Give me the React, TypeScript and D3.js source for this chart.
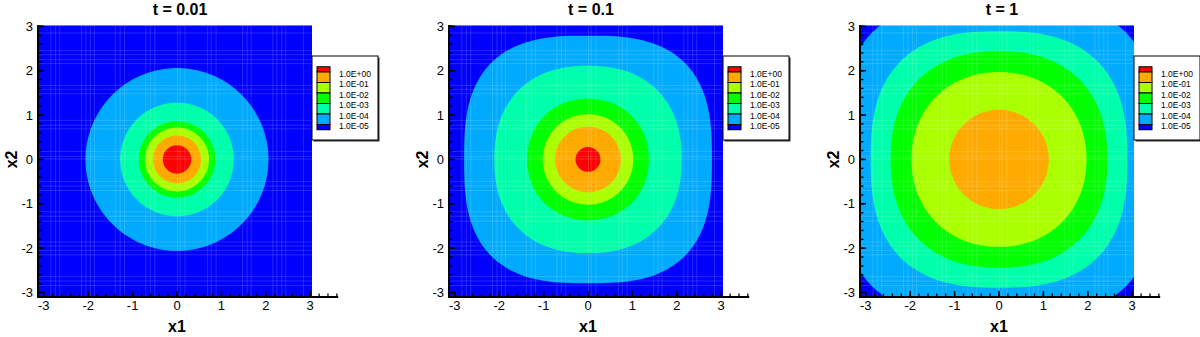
import * as d3 from "d3";

const width = 1200;
const height = 337;

// contour levels, legend order (highest first)
const levelLabels = ["1.0E+00", "1.0E-01", "1.0E-02", "1.0E-03", "1.0E-04", "1.0E-05"];
// band colours, from above 1E+00 down to below 1E-05
const bandColors = ["#ff0000", "#ffaa00", "#aaff00", "#00ff00", "#00ffaa", "#00aaff", "#0000ff"];

const titles = ["t = 0.01", "t = 0.1", "t = 1"];

// radius of each level boundary (1E-05 outermost first ... 1E+00 last)
const radii001 = [2.06, 1.28, 0.86, 0.72, 0.54, 0.32];
const radii01 = [2.79, 2.11, 1.37, 1.02, 0.74, 0.28];
const radii1 = [3.55, 2.89, 2.44, 1.97, 1.12];
// squareness of each boundary (2 = circle)
const shape001 = [2, 2, 2, 2, 2, 2];
const shape01 = [2.8, 2.3, 2.08, 2, 2, 2];
const shape1 = [3.2, 2.6, 2.3, 2.1, 2];

// faint mesh lines seen through the fill
const meshLines = [-2.84, -2.74, -2.64, -2.15, -2.05, -1.95, -1.86, -1.39, -1.28, -1.18, -0.7, -0.6, -0.5,
  0.01, 0.07, 0.18, 0.69, 0.77, 0.88, 1.48, 1.58, 1.67, 2.16, 2.25, 2.36, 2.45, 2.85];

const majorTicks = [-3, -2, -1, 0, 1, 2, 3];

const panels = [
  { title: titles[0], radii: radii001, shape: shape001 },
  { title: titles[1], radii: radii01, shape: shape01 },
  { title: titles[2], radii: radii1, shape: shape1 },
];

const plotLeft = [38, 449, 860];
const plotW = 274;
const plotTop = 25;
const plotH = 272;
const xDomain: [number, number] = [-3.13, 3.04];
const yDomain: [number, number] = [-3.1, 3.03];
const font = "'Liberation Sans', Arial, sans-serif";

function superEllipse(r: number, p: number) {
  const n = 200;
  return d3.range(n).map((i) => {
    const a = (i / n) * Math.PI * 2;
    const c = Math.cos(a);
    const s = Math.sin(a);
    return [
      r * Math.sign(c) * Math.pow(Math.abs(c), 2 / p),
      r * Math.sign(s) * Math.pow(Math.abs(s), 2 / p),
    ] as [number, number];
  });
}

const Panel = ({ idx }: { idx: number }) => {
  const panel = panels[idx];
  const left = plotLeft[idx];
  const x = d3.scaleLinear().domain(xDomain).range([left, left + plotW]);
  const y = d3.scaleLinear().domain(yDomain).range([plotTop + plotH, plotTop]);
  const line = d3
    .line<[number, number]>()
    .x((d) => x(d[0]))
    .y((d) => y(d[1]))
    .curve(d3.curveLinearClosed);

  const bottom = plotTop + plotH;
  const xEnd = 3.63;
  const xMinor = d3.range(-3, xEnd, 0.2).map((v) => +v.toFixed(2));
  const yMinor = d3.range(-3, 3.01, 0.2).map((v) => +v.toFixed(2));

  // legend
  const legLeft = left + plotW;
  const legTop = 56;
  const legY = d3.scaleLinear().domain([0, 1]).range([72, 82.5]);
  const sw = legLeft + 5;

  return (
    <g>
      <clipPath id={`clip${idx}`}>
        <rect x={left} y={plotTop} width={plotW} height={plotH} />
      </clipPath>
      <g clipPath={`url(#clip${idx})`}>
        <rect x={left} y={plotTop} width={plotW} height={plotH} fill={bandColors[6]} />
        {panel.radii.map((r, i) => (
          <path key={i} d={line(superEllipse(r, panel.shape[i])) || ""} fill={bandColors[5 - i]} />
        ))}
        {meshLines.map((m, i) => (
          <line key={"mx" + i} x1={x(m)} x2={x(m)} y1={plotTop} y2={bottom} stroke="#fff" strokeOpacity={0.15} />
        ))}
        {meshLines.map((m, i) => (
          <line key={"my" + i} y1={y(m)} y2={y(m)} x1={left} x2={left + plotW} stroke="#fff" strokeOpacity={0.15} />
        ))}
        <line x1={left} x2={left + plotW} y1={plotTop + 0.5} y2={plotTop + 0.5} stroke="#fff" strokeOpacity={0.45} />
      </g>

      {/* x axis */}
      <line x1={x(xDomain[0]) - 1} x2={x(xEnd)} y1={bottom} y2={bottom} stroke="#000" strokeWidth={2} />
      {xMinor.map((v, i) => (
        <line key={"xm" + i} x1={x(v)} x2={x(v)} y1={bottom} y2={bottom - 3.5} stroke="#000" strokeWidth={1.3} />
      ))}
      {majorTicks.map((v) => (
        <g key={"xt" + v}>
          <line x1={x(v)} x2={x(v)} y1={bottom} y2={bottom - 6} stroke="#000" strokeWidth={1.5} />
          <text x={x(v)} y={bottom + 13} textAnchor="middle" fontSize={13} fontFamily={font}>
            {v}
          </text>
        </g>
      ))}
      <text x={x(0)} y={332} textAnchor="middle" fontSize={16} fontWeight="bold" fontFamily={font}>
        x1
      </text>

      {/* y axis */}
      <line x1={left} x2={left} y1={plotTop} y2={bottom + 1} stroke="#000" strokeWidth={2} />
      {yMinor.map((v, i) => (
        <line key={"ym" + i} x1={left} x2={left + 3.5} y1={y(v)} y2={y(v)} stroke="#000" strokeWidth={1.3} />
      ))}
      {majorTicks.map((v) => (
        <g key={"yt" + v}>
          <line x1={left} x2={left + 6} y1={y(v)} y2={y(v)} stroke="#000" strokeWidth={1.5} />
          <text x={left - 5} y={y(v)} dy="0.36em" textAnchor="end" fontSize={13} fontFamily={font}>
            {v}
          </text>
        </g>
      ))}
      <text
        transform={`translate(${left - 21},${y(0)}) rotate(-90)`}
        textAnchor="middle"
        fontSize={16}
        fontWeight="bold"
        fontFamily={font}
      >
        x2
      </text>

      <text x={x(0) + 3} y={15} textAnchor="middle" fontSize={16} fontWeight="bold" fontFamily={font}>
        {panel.title}
      </text>

      {/* legend */}
      <rect x={legLeft + 1.5} y={legTop + 1.5} width={66} height={84} fill="#333" />
      <rect x={legLeft} y={legTop} width={66} height={84} fill="#fff" stroke="#000" strokeWidth={1} />
      <rect x={sw} y={legY(-0.5)} width={13} height={legY(0) - legY(-0.5)} fill={bandColors[0]} stroke="#000" strokeWidth={1} />
      {levelLabels.slice(0, 5).map((_, i) => (
        <rect
          key={"ls" + i}
          x={sw}
          y={legY(i)}
          width={13}
          height={legY(i + 1) - legY(i)}
          fill={bandColors[i + 1]}
          stroke="#000"
          strokeWidth={1}
        />
      ))}
      <rect x={sw} y={legY(5)} width={13} height={legY(5.5) - legY(5)} fill={bandColors[6]} stroke="#000" strokeWidth={1} />
      {levelLabels.map((l, i) => (
        <text key={"lt" + i} x={legLeft + 27} y={legY(i) + 2} dy="0.35em" fontSize={8.5} fontFamily={font}>
          {l}
        </text>
      ))}
    </g>
  );
};

export default function App() {
  return (
    <svg
      width={width}
      height={height}
      style={{ position: "absolute", left: 0, top: 0, background: "#fff" }}
    >
      {panels.map((_, i) => (
        <Panel key={i} idx={i} />
      ))}
    </svg>
  );
}
